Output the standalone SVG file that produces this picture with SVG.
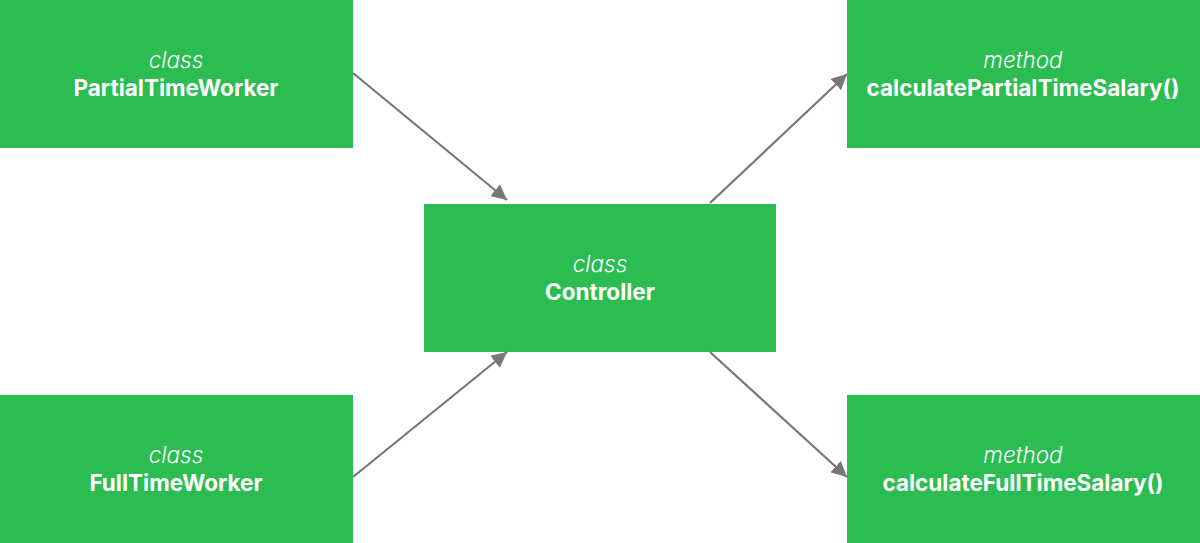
<svg xmlns="http://www.w3.org/2000/svg" width="1200" height="543" viewBox="0 0 1200 543">
<style>
.box{fill:#2bbd51}
.t1{font-family:Inter,"Liberation Sans",sans-serif;font-size:22.5px;font-style:italic;font-weight:300;fill:#ffffff;text-anchor:middle}
.t2{font-family:Inter,"Liberation Sans",sans-serif;font-size:22.5px;font-weight:bold;fill:#ffffff;text-anchor:middle}
.conn{stroke:#777777;stroke-width:2.2;fill:none;marker-end:url(#arr)}
</style>
<defs>
<marker id="arr" viewBox="0 0 10 10" refX="10" refY="5" markerWidth="7" markerHeight="7" markerUnits="strokeWidth" orient="auto">
<path d="M0,0 L10,5 L0,10 z" fill="#777777"/>
</marker>
</defs>
<rect width="1200" height="543" fill="#ffffff"/>
<g id="partialTimeWorker">
<rect class="box" x="0" y="0" width="353" height="148"/>
<text class="t1" x="176" y="68">class</text>
<text class="t2" x="176" y="96">PartialTimeWorker</text>
</g>
<g id="fullTimeWorker">
<rect class="box" x="0" y="395" width="353" height="148"/>
<text class="t1" x="176" y="463">class</text>
<text class="t2" x="176" y="491">FullTimeWorker</text>
</g>
<g id="controller">
<rect class="box" x="424" y="204" width="352" height="148"/>
<text class="t1" x="600" y="272">class</text>
<text class="t2" x="600" y="300">Controller</text>
</g>
<g id="calcPartial">
<rect class="box" x="847" y="0" width="353" height="148"/>
<text class="t1" x="1023" y="68">method</text>
<text class="t2" x="1023" y="96">calculatePartialTimeSalary()</text>
</g>
<g id="calcFull">
<rect class="box" x="847" y="395" width="353" height="148"/>
<text class="t1" x="1023" y="463">method</text>
<text class="t2" x="1023" y="491">calculateFullTimeSalary()</text>
</g>
<g id="connectors">
<line class="conn" x1="353" y1="73" x2="507" y2="200"/>
<line class="conn" x1="353" y1="477" x2="507" y2="352"/>
<line class="conn" x1="710" y1="203" x2="847" y2="74"/>
<line class="conn" x1="710" y1="352" x2="847" y2="477"/>
</g>
</svg>
